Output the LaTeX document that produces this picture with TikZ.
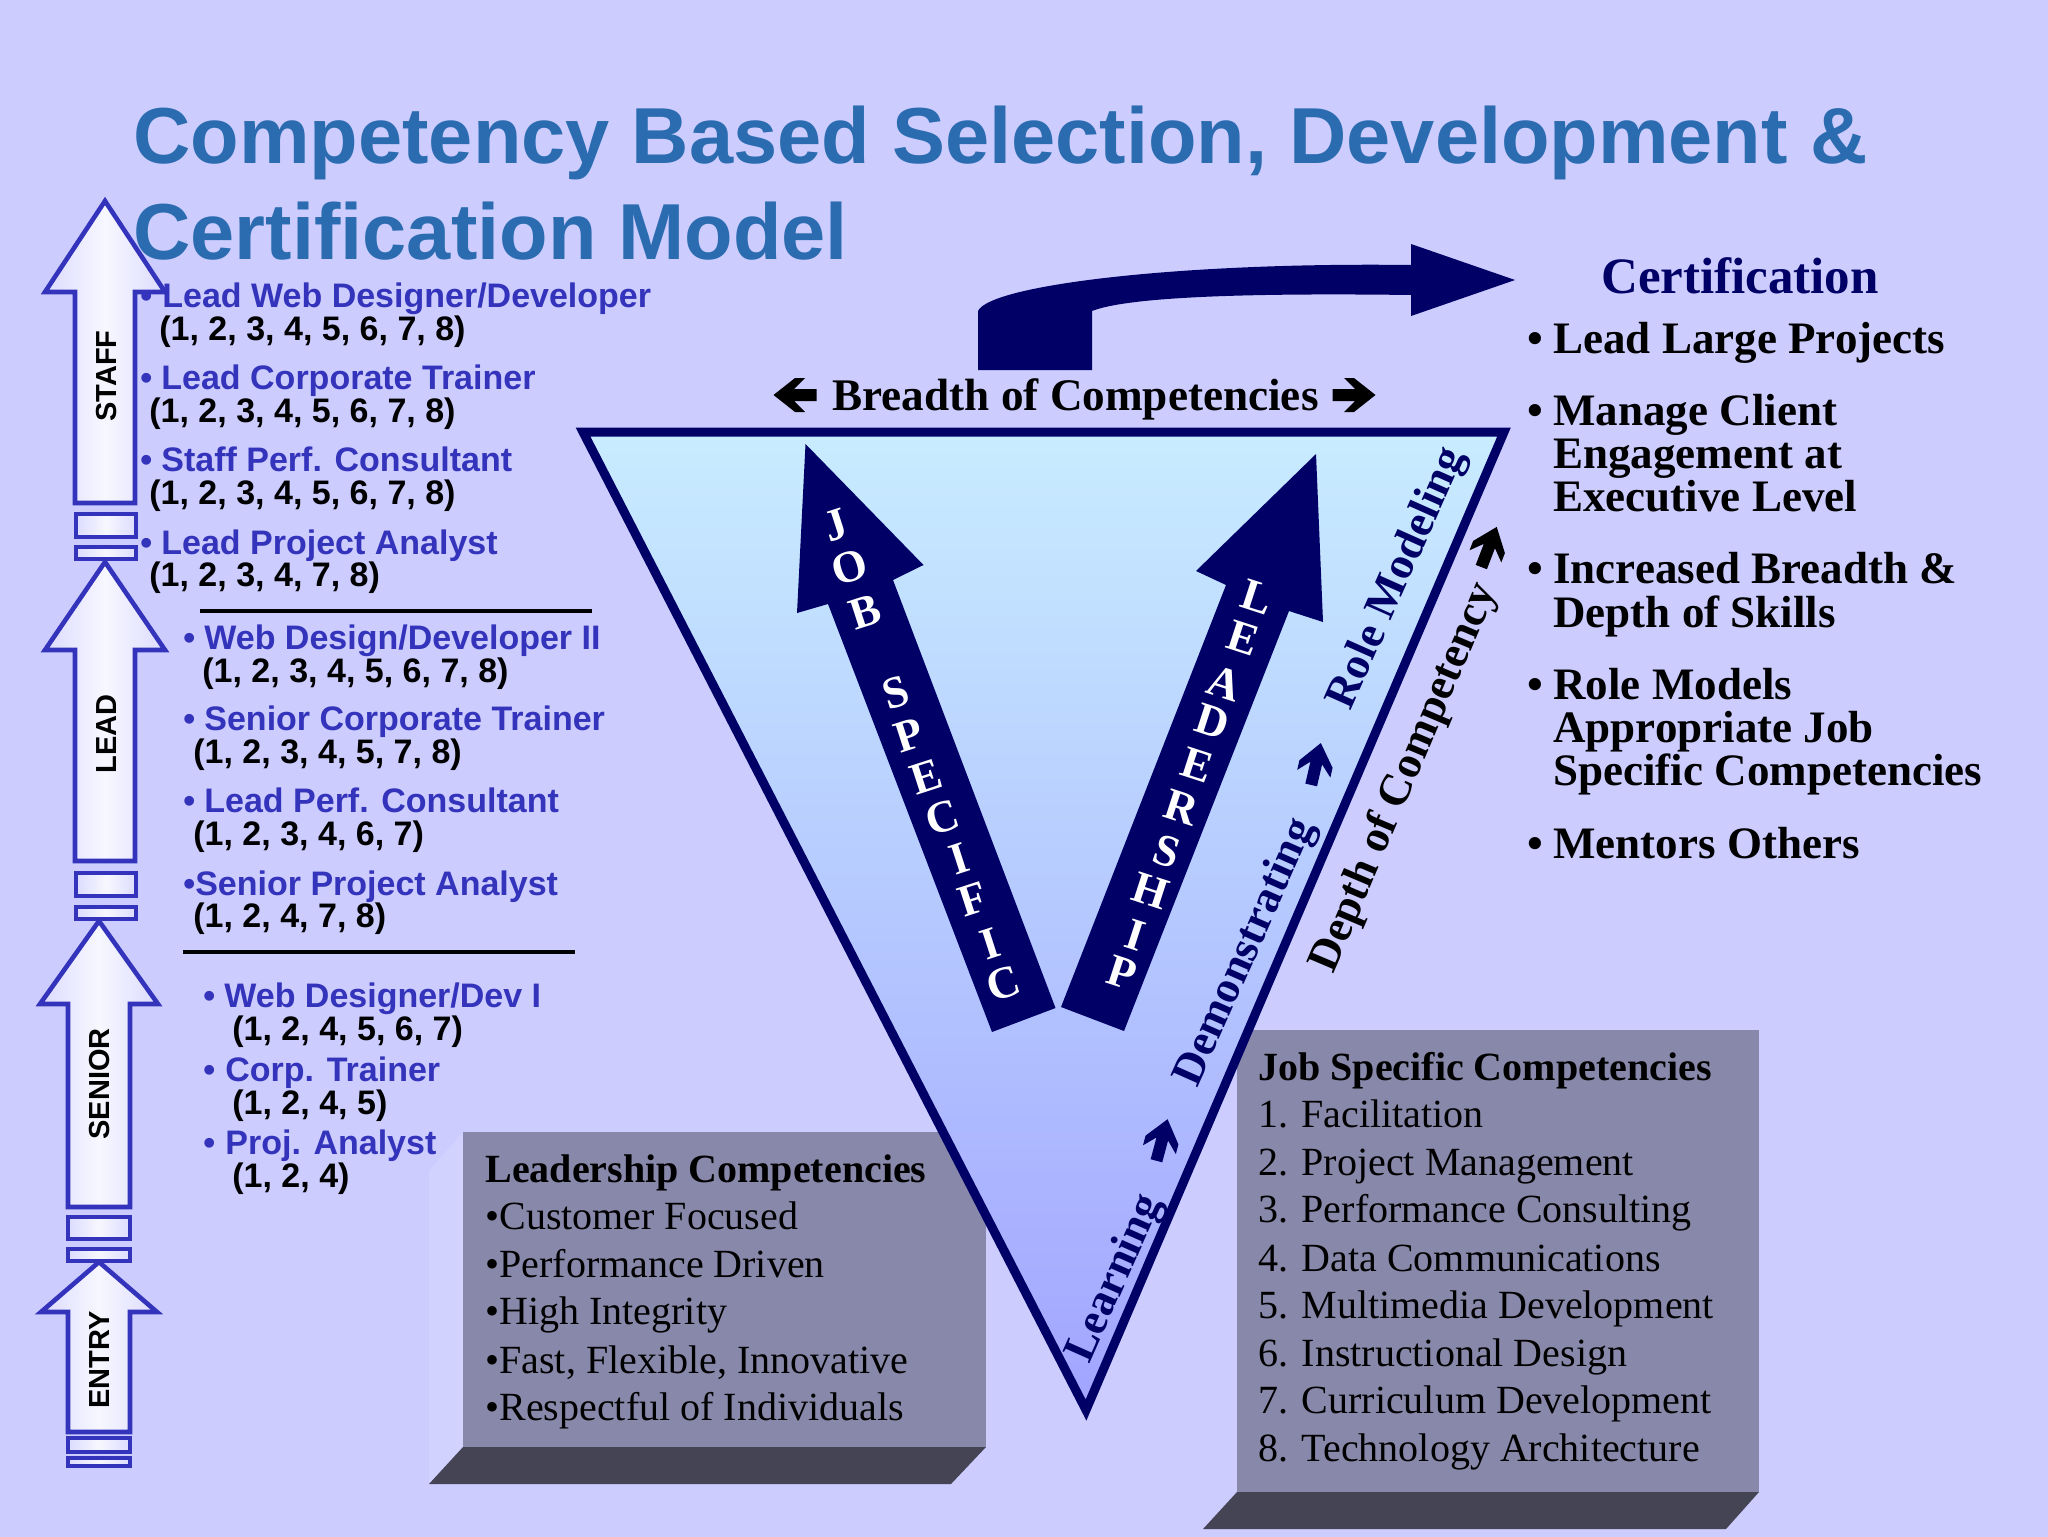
\documentclass[tikz,border=0pt]{standalone}
\usepackage{fontspec}
\setmainfont{Liberation Serif}
\setsansfont{Liberation Sans}
\usetikzlibrary{shadings}
\definecolor{bgc}{HTML}{CCCCFF}
\definecolor{navy}{HTML}{000066}
\definecolor{titlec}{HTML}{2B6CB0}
\definecolor{bluec}{HTML}{3333BB}
\definecolor{boxc}{HTML}{8888AA}
\definecolor{boxd}{HTML}{444455}
\definecolor{tritop}{HTML}{C8ECFF}
\definecolor{tribot}{HTML}{A2A4FF}
\tikzset{
 ladder/.style={draw=bluec,line width=2.3pt,left color=bgc!70!white,right color=bgc!70!white,middle color=bgc!15!white,miter limit=10},
 titlet/.style={anchor=base west,inner sep=0,text=titlec,font=\sffamily\bfseries\fontsize{39.7}{40}\selectfont},
 jobt/.style={anchor=base west,inner sep=0,text=bluec,font=\sffamily\bfseries\fontsize{17}{17}\selectfont},
 numt/.style={anchor=base west,inner sep=0,text=black,font=\sffamily\bfseries\fontsize{17}{17}\selectfont},
 levelt/.style={inner sep=0,rotate=90,text=black,font=\sffamily\bfseries\fontsize{14.5}{14.5}\selectfont},
 certt/.style={anchor=base west,inner sep=0,text=black,font=\rmfamily\bfseries\fontsize{22.5}{22.5}\selectfont},
 boxt/.style={anchor=base west,inner sep=0,text=black,font=\rmfamily\fontsize{20}{20}\selectfont},
 boxh/.style={anchor=base west,inner sep=0,text=black,font=\rmfamily\bfseries\fontsize{20}{20}\selectfont},
 slant/.style={inner sep=0,rotate=66,text=navy,font=\rmfamily\bfseries\fontsize{22.5}{22.5}\selectfont},
 letj/.style={inner sep=0,rotate=18,text=white,font=\rmfamily\bfseries\fontsize{22.5}{22.5}\selectfont},
 letl/.style={inner sep=0,rotate=-18,text=white,font=\rmfamily\bfseries\fontsize{22.5}{22.5}\selectfont},
}
\newcommand{\ladderarrow}[6]{% cx halfhead halfshaft tipy heady bottomy
 \filldraw[ladder] (#1,#4) -- (#1+#2,#5) -- (#1+#3,#5) -- (#1+#3,#6) -- (#1-#3,#6) -- (#1-#3,#5) -- (#1-#2,#5) -- cycle;}
\newcommand{\ladderrect}[4]{\filldraw[ladder] (#1-#2,#3) rectangle (#1+#2,#4);}
\newcommand{\minia}[4]{\fill[#4,shift={(#1,#2)},rotate=#3] (0,-21.5) -- (17,0) -- (17,10) -- (6,-1) -- (6,21.5) -- (-6,21.5) -- (-6,-1) -- (-17,10) -- (-17,0) -- cycle;}
\begin{document}
\begin{tikzpicture}[x=0.5pt,y=-0.5pt]
\useasboundingbox (0,0) rectangle (2048,1536);
\fill[bgc] (-5,-5) rectangle (2053,1541);
% ladder
\ladderarrow{105}{60}{30}{201}{292}{503}
\ladderrect{106}{30}{514}{537}
\ladderrect{106}{30}{547}{559}
\ladderarrow{105}{60}{30}{562}{650}{861}
\ladderrect{106}{30}{873}{896}
\ladderrect{106}{30}{907}{919}
\ladderarrow{99}{59}{31}{921}{1004}{1207}
\ladderrect{99}{31}{1217}{1239}
\ladderrect{99}{31}{1249}{1261}
\ladderarrow{99}{58}{31}{1262}{1312}{1432}
\ladderrect{99}{31}{1438}{1452}
\ladderrect{99}{31}{1458}{1466}
\node[levelt] (staff) at (107,376) {STAFF};
\node[levelt] (lead) at (107,734) {LEAD};
\node[levelt] (senior) at (100,1084) {SENIOR};
\node[levelt] (entry) at (100,1360) {ENTRY};
% title
\node[titlet] (t1) at (133,163) {Competency Based Selection, Development \&};
\node[titlet] (t2) at (133,259) {Certification Model};
% job lists
\node[jobt] (b1) at (140,307) {•};
\node[jobt] (j1) at (162,307) {Lead Web Designer/Developer};
\node[numt] (n1) at (159,340) {(1, 2, 3, 4, 5, 6, 7, 8)};
\node[jobt] (b2) at (140,389) {•};
\node[jobt] (j2) at (161,389) {Lead Corporate Trainer};
\node[numt] (n2) at (149,422) {(1, 2, 3, 4, 5, 6, 7, 8)};
\node[jobt] (b3) at (140,471) {•};
\node[jobt] (j3) at (161,471) {Staff Perf. Consultant};
\node[numt] (n3) at (149,504) {(1, 2, 3, 4, 5, 6, 7, 8)};
\node[jobt] (b4) at (140,554) {•};
\node[jobt] (j4) at (161,554) {Lead Project Analyst};
\node[numt] (n4) at (149,586) {(1, 2, 3, 4, 7, 8)};
\draw[line width=2pt] (200,611) -- (592,611);
\node[jobt] (b5) at (183,649) {•};
\node[jobt] (j5) at (204,649) {Web Design/Developer II};
\node[numt] (n5) at (202,682) {(1, 2, 3, 4, 5, 6, 7, 8)};
\node[jobt] (b6) at (183,730) {•};
\node[jobt] (j6) at (204,730) {Senior Corporate Trainer};
\node[numt] (n6) at (193,763) {(1, 2, 3, 4, 5, 7, 8)};
\node[jobt] (b7) at (183,812) {•};
\node[jobt] (j7) at (204,812) {Lead Perf. Consultant};
\node[numt] (n7) at (193,845) {(1, 2, 3, 4, 6, 7)};
\node[jobt] (j8) at (183,895) {•Senior Project Analyst};
\node[numt] (n8) at (193,927) {(1, 2, 4, 7, 8)};
\draw[line width=2pt] (183,952) -- (575,952);
\node[jobt] (b9) at (203,1007) {•};
\node[jobt] (j9) at (224,1007) {Web Designer/Dev I};
\node[numt] (n9) at (232,1040) {(1, 2, 4, 5, 6, 7)};
\node[jobt] (b10) at (203,1081) {•};
\node[jobt] (j10) at (225,1081) {Corp. Trainer};
\node[numt] (n10) at (232,1114) {(1, 2, 4, 5)};
\node[jobt] (b11) at (203,1154) {•};
\node[jobt] (j11) at (225,1154) {Proj. Analyst};
\node[numt] (n11) at (232,1187) {(1, 2, 4)};
% boxes
\fill[bgc!88!white] (429,1171) -- (463,1132) -- (463,1447) -- (429,1484) -- cycle;
\fill[boxc] (463,1132) rectangle (986,1447);
\fill[boxd] (463,1447) -- (986,1447) -- (951,1484) -- (429,1484) -- cycle;
\fill[boxc] (1237,1030) rectangle (1759,1492);
\fill[boxd] (1237,1492) -- (1759,1492) -- (1726,1529) -- (1203,1529) -- cycle;
% triangle
\draw[navy,line width=4.5pt,top color=tritop,bottom color=tribot,miter limit=10] (583,432) -- (1504,432) -- (1086,1410) -- cycle;
% big arrow
\fill[navy] (978,370) -- (978,311) .. controls (990,285) and (1180,262) .. (1411,265) -- (1411,244) -- (1515,280) -- (1411,316) -- (1411,295) .. controls (1260,293) and (1130,296) .. (1092,311) -- (1092,370) -- cycle;
% V arrows
\fill[navy] (805.5,444) -- (923.5,565) -- (893,580) -- (1055.5,1008) -- (992,1032) -- (828,604) -- (797,613) -- cycle;
\fill[navy] (1316,454) -- (1323,622) -- (1289,611) -- (1124,1031) -- (1061,1007) -- (1226,585) -- (1196,571) -- cycle;
% letters
\foreach \n/\l/\x/\y in {a/J/836/525,b/O/850/567,c/B/865/612,d/S/896/693,e/P/909/735,f/E/926/777,g/C/942/818,h/I/959/859,i/F/973/899,k/I/990/944,m/C/1003/984}
  \node[letj] (js\n) at (\x,\y) {\l};
\foreach \n/\l/\x/\y in {a/L/1257/597,b/E/1243/638,c/A/1225/683,d/D/1212/722,e/E/1197/765,f/R/1181/807,g/S/1167/851,h/H/1151/891,i/I/1135/935,k/P/1122/973}
  \node[letl] (ls\n) at (\x,\y) {\l};
% slanted
\node[slant] (role) at (1398,579) {Role Modeling};
\node[slant] (demo) at (1246,953) {Demonstrating};
\node[slant] (learn) at (1116,1279) {Learning};
\node[slant,text=black,rotate=1] (depth) at (1405,778) {Depth of Competency};
\minia{1316}{764}{-13}{navy}
\minia{1162}{1140}{-15}{navy}
\minia{1489}{547}{-21}{black}
\minia{795}{395}{90}{black}
\minia{1354}{395}{-90}{black}
\node[anchor=base west,inner sep=0,font=\rmfamily\bfseries\fontsize{22.6}{23}\selectfont] (breadth) at (832,410) {Breadth of Competencies};
% certification
\node[anchor=base,inner sep=0,text=navy,font=\rmfamily\bfseries\fontsize{25.5}{26}\selectfont] (cert) at (1740,293) {Certification};
\foreach \n/\y in {a/353,b/425,c/583,d/699,e/858}
  \node[certt] (cb\n) at (1527,\y) {•};
\node[certt] (c1) at (1553,353) {Lead Large Projects};
\node[certt] (c2) at (1553,425) {Manage Client};
\node[certt] (c3) at (1553,468) {Engagement at};
\node[certt] (c4) at (1553,511) {Executive Level};
\node[certt] (c5) at (1553,583) {Increased Breadth \&};
\node[certt] (c6) at (1553,627) {Depth of Skills};
\node[certt] (c7) at (1553,699) {Role Models};
\node[certt] (c8) at (1553,742) {Appropriate Job};
\node[certt] (c9) at (1553,785) {Specific Competencies};
\node[certt] (c10) at (1553,858) {Mentors Others};
% box text
\node[boxh] (lh) at (485,1182) {Leadership Competencies};
\node[boxt] (l1) at (485,1229) {•Customer Focused};
\node[boxt] (l2) at (485,1277) {•Performance Driven};
\node[boxt] (l3) at (485,1324) {•High Integrity};
\node[boxt] (l4) at (485,1373) {•Fast, Flexible, Innovative};
\node[boxt] (l5) at (485,1420) {•Respectful of Individuals};
\node[boxh] (jh) at (1258,1080) {Job Specific Competencies};
\node[boxt] (s1) at (1258,1127) {1. Facilitation};
\node[boxt] (s2) at (1258,1175) {2. Project Management};
\node[boxt] (s3) at (1258,1222) {3. Performance Consulting};
\node[boxt] (s4) at (1258,1271) {4. Data Communications};
\node[boxt] (s5) at (1258,1318) {5. Multimedia Development};
\node[boxt] (s6) at (1258,1366) {6. Instructional Design};
\node[boxt] (s7) at (1258,1413) {7. Curriculum Development};
\node[boxt] (s8) at (1258,1461) {8. Technology Architecture};
\end{tikzpicture}
\end{document}
